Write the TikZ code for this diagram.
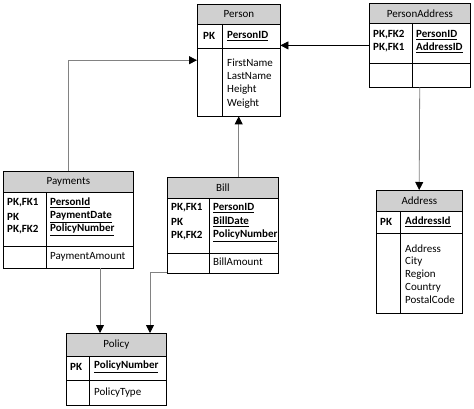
\documentclass[tikz,border=0pt]{standalone}
\usepackage{fontspec}
\setmainfont{Carlito}
\usetikzlibrary{arrows.meta}
\definecolor{hdrgray}{RGB}{208,208,208}
\definecolor{linkgray}{RGB}{130,130,130}
\newcommand{\pkname}[1]{\underline{\textbf{#1}}}
\tikzset{
  ent/.style={draw, line width=0.8pt, anchor=north west, inner sep=0pt},
  frame/.style={anchor=north west, inner sep=0pt},
  hdr/.style={ent, fill=hdrgray, font=\fontsize{11}{13}\selectfont},
  fld/.style={anchor=west, inner sep=0pt, font=\fontsize{11}{13}\selectfont},
  pk/.style={fld, font=\fontsize{11}{13}\selectfont\bfseries},
  link/.style={draw=linkgray, line width=0.8pt, -{Triangle[length=8pt,width=8pt,black]}},
}
\begin{document}
\begin{tikzpicture}[x=1pt,y=-1pt]
    \useasboundingbox (0,0) rectangle (474,409);

    % Person
    \node[frame, minimum width=83pt, minimum height=112pt] (person) at (197,4) {};
    \node[hdr, minimum width=83pt, minimum height=20pt] (personH) at (197,4) {Person};
    \node[ent, minimum width=83pt, minimum height=24pt] (personK) at (197,24) {};
    \node[ent, minimum width=83pt, minimum height=68pt] (personA) at (197,48) {};
    \draw[line width=0.8pt] (222,24) -- (222,116);
    \node[pk] (personPK) at (203,36) {PK};
    \node[fld] (personKey) at (227,36) {\pkname{PersonID}};
    \foreach \t [count=\i from 0] in {FirstName,LastName,Height,Weight}
        \node[fld] (personF\i) at (227,{63+13.5*\i}) {\t};

    % PersonAddress
    \node[frame, minimum width=101pt, minimum height=84pt] (pa) at (369,3) {};
    \node[hdr, minimum width=101pt, minimum height=20pt] (paH) at (369,3) {PersonAddress};
    \node[ent, minimum width=101pt, minimum height=40pt] (paK) at (369,23) {};
    \node[ent, minimum width=101pt, minimum height=24pt] (paE) at (369,63) {};
    \draw[line width=0.8pt] (412,23) -- (412,87);
    \node[pk] (paPK1) at (373,35) {PK,FK2};
    \node[pk] (paPK2) at (373,48) {PK,FK1};
    \node[fld] (paKey1) at (416,35) {\pkname{PersonID}};
    \node[fld] (paKey2) at (416,48) {\pkname{AddressID}};

    % Payments
    \node[frame, minimum width=130pt, minimum height=97pt] (payments) at (3,171) {};
    \node[hdr, minimum width=130pt, minimum height=21pt] (paymentsH) at (3,171) {Payments};
    \node[ent, minimum width=130pt, minimum height=54pt] (paymentsK) at (3,192) {};
    \node[ent, minimum width=130pt, minimum height=22pt] (paymentsA) at (3,246) {};
    \draw[line width=0.8pt] (46,192) -- (46,268);
    \node[pk] (paymentsPK1) at (7,203) {PK,FK1};
    \node[pk] (paymentsPK2) at (7,217) {PK};
    \node[pk] (paymentsPK3) at (7,230) {PK,FK2};
    \node[fld] (paymentsKey1) at (50,203) {\pkname{PersonId}};
    \node[fld] (paymentsKey2) at (50,217) {\pkname{PaymentDate}};
    \node[fld] (paymentsKey3) at (50,230) {\pkname{PolicyNumber}};
    \node[fld] (paymentsF0) at (50,257) {PaymentAmount};

    % Bill
    \node[frame, minimum width=111pt, minimum height=96pt] (bill) at (167,177) {};
    \node[hdr, minimum width=111pt, minimum height=21pt] (billH) at (167,177) {Bill};
    \node[ent, minimum width=111pt, minimum height=55pt] (billK) at (167,198) {};
    \node[ent, minimum width=111pt, minimum height=20pt] (billA) at (167,253) {};
    \draw[line width=0.8pt] (209,198) -- (209,273);
    \node[pk] (billPK1) at (171,208) {PK,FK1};
    \node[pk] (billPK2) at (171,222) {PK};
    \node[pk] (billPK3) at (171,236) {PK,FK2};
    \node[fld] (billKey1) at (213,208) {\pkname{PersonID}};
    \node[fld] (billKey2) at (213,222) {\pkname{BillDate}};
    \node[fld] (billKey3) at (213,236) {\pkname{PolicyNumber}};
    \node[fld] (billF0) at (213,262) {BillAmount};

    % Policy
    \node[frame, minimum width=100pt, minimum height=72pt] (policy) at (66,333) {};
    \node[hdr, minimum width=100pt, minimum height=23pt] (policyH) at (66,333) {Policy};
    \node[ent, minimum width=100pt, minimum height=24pt] (policyK) at (66,356) {};
    \node[ent, minimum width=100pt, minimum height=25pt] (policyA) at (66,380) {};
    \draw[line width=0.8pt] (89,356) -- (89,405);
    \node[pk] (policyPK) at (70,367) {PK};
    \node[fld] (policyKey) at (94,367) {\pkname{PolicyNumber}};
    \node[fld] (policyF0) at (94,393) {PolicyType};

    % Address
    \node[frame, minimum width=86pt, minimum height=123pt] (address) at (376,190) {};
    \node[hdr, minimum width=86pt, minimum height=21pt] (addressH) at (376,190) {Address};
    \node[ent, minimum width=86pt, minimum height=22pt] (addressK) at (376,211) {};
    \node[ent, minimum width=86pt, minimum height=80pt] (addressA) at (376,233) {};
    \draw[line width=0.8pt] (400,211) -- (400,313);
    \node[pk] (addressPK) at (380,222) {PK};
    \node[fld] (addressKey) at (405,222) {\pkname{AddressId}};
    \foreach \t [count=\i from 0] in {Address,City,Region,Country,PostalCode}
        \node[fld] (addressF\i) at (405,{249+12.8*\i}) {\t};

    % links
    \coordinate (polA) at (100,333);
    \coordinate (polB) at (150,333);
    \draw[link, draw=black] ([yshift=-2pt]paK.west) -- ([yshift=-2pt]paK.west -| person.east);
    \draw[link] (payments.north) |- (person.west);
    \draw[link] (person.south |- bill.north) -- (person.south);
    \draw[link] (pa.south) -- (address.north);
    \draw[link] (polA |- payments.south) -- (polA);
    \draw[link] ([yshift=1pt]bill.south west) -| (polB);
\end{tikzpicture}
\end{document}
